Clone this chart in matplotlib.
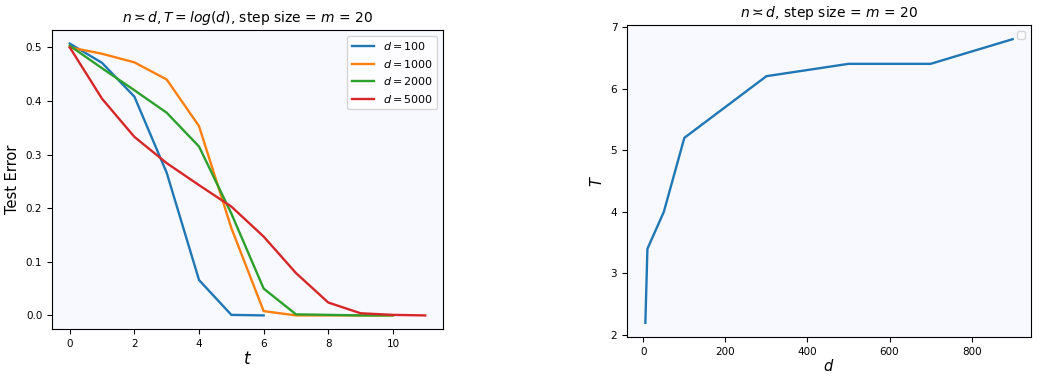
import numpy as np
import matplotlib
matplotlib.use("Agg")
from matplotlib import pyplot as plt

# left panel: test error vs t for several d
t_100 = [0, 1, 2, 3, 4, 5, 6]
err_100 = [0.507, 0.471, 0.408, 0.266, 0.066, 0.001, 0.0]
t_1000 = [0, 1, 2, 3, 4, 5, 6, 7, 8, 9, 10]
err_1000 = [0.500, 0.488, 0.472, 0.440, 0.353, 0.163, 0.008, 0.0, 0.0, 0.0, 0.0]
t_2000 = [0, 1, 2, 3, 4, 5, 6, 7, 8, 9, 10]
err_2000 = [0.503, 0.461, 0.420, 0.378, 0.315, 0.190, 0.050, 0.002, 0.001, 0.0, 0.0]
t_5000 = [0, 1, 2, 3, 4, 5, 6, 7, 8, 9, 10, 11]
err_5000 = [0.500, 0.404, 0.333, 0.284, 0.243, 0.203, 0.147, 0.079, 0.024, 0.004, 0.001, 0.0]

# right panel: T vs d
d_vals = [5, 10, 50, 100, 300, 500, 700, 900]
T_vals = [2.2, 3.4, 4.0, 5.2, 6.2, 6.4, 6.4, 6.8]

bg = "ghostwhite"
fig = plt.figure(figsize=(10.4, 3.8), dpi=100)

ax1 = fig.add_axes([52/1040, 1 - 329/380, 391/1040, 299/380])
ax1.set_facecolor(bg)
ax1.plot(t_100, err_100, lw=1.7, label=r"$d = 100$")
ax1.plot(t_1000, err_1000, lw=1.7, label=r"$d = 1000$")
ax1.plot(t_2000, err_2000, lw=1.7, label=r"$d = 2000$")
ax1.plot(t_5000, err_5000, lw=1.7, label=r"$d = 5000$")
ax1.set_title(r"$n \asymp d, T = log(d)$, step size = $m$ = 20", fontsize=10)
ax1.set_xlabel(r"$t$", fontsize=12, labelpad=1)
ax1.set_ylabel("Test Error", fontsize=10.5)
ax1.tick_params(labelsize=7.5)
ax1.legend(fontsize=8, loc="upper right")

ax2 = fig.add_axes([627/1040, 1 - 337/380, 404/1040, 312/380])
ax2.set_facecolor(bg)
ax2.plot(d_vals, T_vals, lw=1.7)
ax2.set_title(r"$n \asymp d$, step size = $m$ = 20", fontsize=10)
ax2.set_xlabel(r"$d$", fontsize=10.5, labelpad=1)
ax2.set_ylabel(r"$T$", fontsize=10.5)
ax2.tick_params(labelsize=7.5)
ax2.legend(fontsize=8)

fig.savefig("out.png", dpi=100)
